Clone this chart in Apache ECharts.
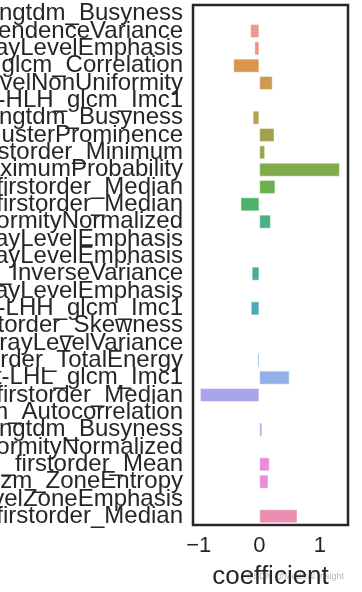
<!DOCTYPE html>
<html>
<head>
<meta charset="utf-8">
<script src="https://cdn.jsdelivr.net/npm/echarts@6/dist/echarts.min.js"></script>
<style>
html,body{margin:0;padding:0;background:#fff;}
#chart{width:362px;height:592px;}
</style>
</head>
<body>
<div id="chart"></div>
<script>
// ---- data ----
var features = [
  "original_ngtdm_Busyness",
  "original_gldm_DependenceVariance",
  "wavelet-LLH_glszm_HighGrayLevelEmphasis",
  "wavelet-LHL_glcm_Correlation",
  "original_glrlm_GrayLevelNonUniformity",
  "wavelet-HLH_glcm_Imc1",
  "wavelet-LHH_ngtdm_Busyness",
  "original_glcm_ClusterProminence",
  "wavelet-HHH_firstorder_Minimum",
  "wavelet-HLL_glcm_MaximumProbability",
  "wavelet-HHL_firstorder_Median",
  "wavelet-LHL_firstorder_Median",
  "original_gldm_DependenceNonUniformityNormalized",
  "wavelet-HLH_glrlm_LowGrayLevelEmphasis",
  "wavelet-LLL_gldm_HighGrayLevelEmphasis",
  "original_glcm_InverseVariance",
  "wavelet-HHL_gldm_SmallDependenceLowGrayLevelEmphasis",
  "wavelet-LHH_glcm_Imc1",
  "wavelet-LLH_firstorder_Skewness",
  "original_glszm_GrayLevelVariance",
  "wavelet-HLL_firstorder_TotalEnergy",
  "wavelet-LHL_glcm_Imc1",
  "original_firstorder_Median",
  "wavelet-HHH_glcm_Autocorrelation",
  "wavelet-HHL_ngtdm_Busyness",
  "wavelet-LLH_glszm_SizeZoneNonUniformityNormalized",
  "wavelet-LHH_firstorder_Mean",
  "wavelet-LLL_glszm_ZoneEntropy",
  "original_glszm_LowGrayLevelZoneEmphasis",
  "wavelet-LLL_firstorder_Median"
];
var coefficients = [
  0.0, -0.15, -0.08, -0.43, 0.22, 0.0, -0.11, 0.25, 0.095, 1.33,
  0.265, -0.31, 0.19, 0.0, 0.0, -0.125, 0.0, -0.14, 0.0, 0.0,
  -0.03, 0.50, -0.98, 0.0, 0.05, 0.0, 0.17, 0.15, 0.01, 0.63
];
var xTicks = [-1, 0, 1];

// ---- bar colours (style) ----
var palette = [
  "#e99a9a", "#e99a97", "#e8967f", "#d99550", "#cc9a50",
  "#bf9f52", "#b3a353", "#a3a24a", "#94a84a", "#7fab4a",
  "#6cb04e", "#4db36a", "#4daf88", "#4cae90", "#4bac98",
  "#4aab9f", "#4caaab", "#4eaab8", "#55a8c6", "#62a6d2",
  "#74a8dc", "#93b0e8", "#a8a5ea", "#bea3ec", "#cfa0ee",
  "#dc9ae8", "#e88ddd", "#e88ed2", "#e98fc4", "#e98fb2"
];

var chart = echarts.init(document.getElementById('chart'), null, {renderer:'canvas'});
chart.setOption({
  animation: false,
  backgroundColor: '#ffffff',
  grid: {
    left: 193, right: 14, top: 5, bottom: 67,
    show: true, borderColor: '#262626', borderWidth: 2.5,
    backgroundColor: 'transparent',
    containLabel: false,
    outerBoundsMode: 'none'
  },
  xAxis: {
    type: 'value',
    min: -1.096, max: 1.466,
    name: 'coefficient',
    nameLocation: 'middle',
    nameGap: 39,
    nameTextStyle: { fontFamily: 'Liberation Sans', fontSize: 26, color: '#262626' },
    splitLine: { show: false },
    axisLine: { show: false },
    axisTick: { show: false, customValues: xTicks },
    axisLabel: {
      customValues: xTicks,
      fontFamily: 'Liberation Sans', fontSize: 22, color: '#262626', margin: 10,
      formatter: function(v){ return String(v).replace('-', '\u2212'); }
    }
  },
  yAxis: {
    type: 'category',
    data: features,
    inverse: true,
    axisLine: { show: false },
    axisTick: { show: false },
    splitLine: { show: false },
    axisLabel: {
      interval: 0,
      fontFamily: 'Liberation Sans', fontSize: 24, color: '#262626', margin: 10
    }
  },
  series: [{
    type: 'bar',
    data: coefficients.map(function(v, i){
      return { value: v, itemStyle: { color: palette[i] } };
    }),
    barWidth: '80%',
    itemStyle: { borderColor: 'rgba(255,255,255,0.6)', borderWidth: 0.8 }
  }],
  graphic: [{
    type: 'text',
    right: 18, top: 572,
    style: { text: 'CSDN @Medical Insight', fontSize: 9, fontFamily: 'Liberation Sans', fill: '#b8b8b8' }
  }]
});
</script>
</body>
</html>
